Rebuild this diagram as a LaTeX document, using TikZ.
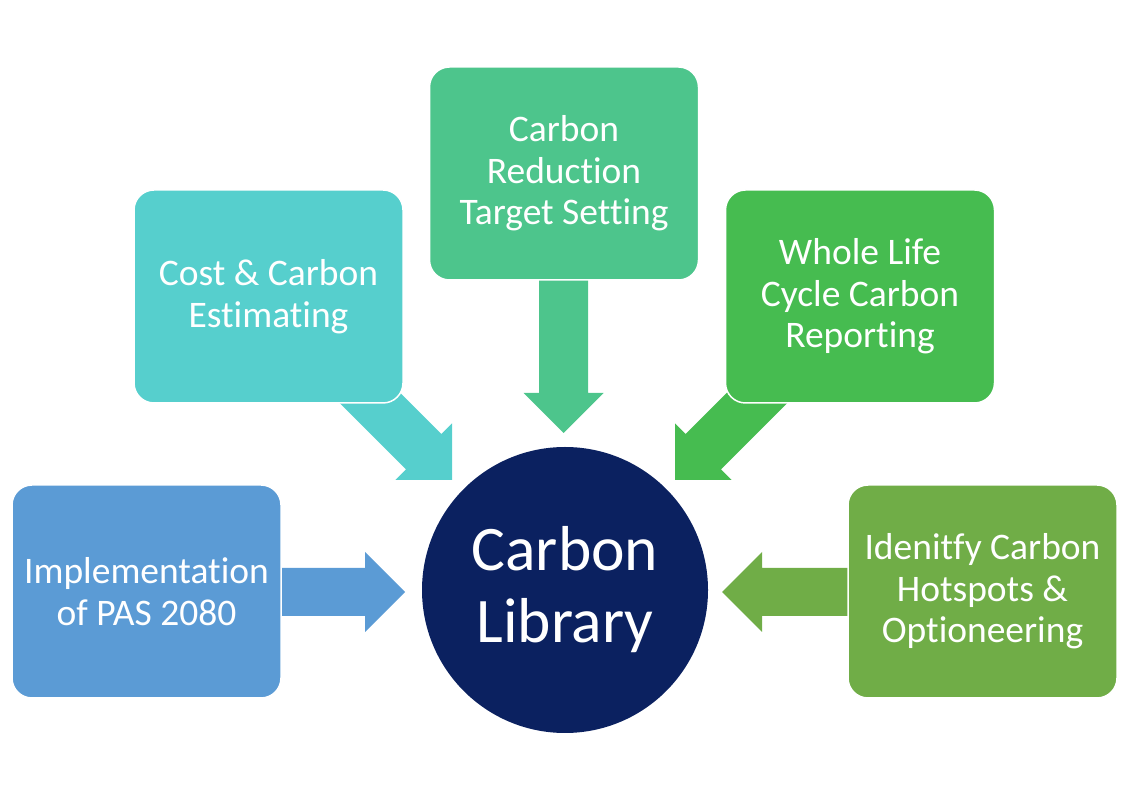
\documentclass[tikz,border=0pt]{standalone}
\usepackage{fontspec}
\setmainfont{Carlito}[Ligatures=NoCommon]
\definecolor{cImpl}{HTML}{5B9BD5}
\definecolor{cCost}{HTML}{56CFCD}
\definecolor{cTarget}{HTML}{4DC58C}
\definecolor{cWhole}{HTML}{46BC50}
\definecolor{cIdent}{HTML}{70AD47}
\definecolor{cNavy}{HTML}{0B2160}
\newcommand\bigarrow[5]{% #1 tip, #2 angle, #3 length, #4 colour, #5 shaft half width
  \fill[#4, shift={(#1)}, rotate=#2] (0,0) -- (-40,40) -- (-40,#5) -- (-#3,#5) -- (-#3,-#5) -- (-40,-#5) -- (-40,-40) -- cycle;}
\tikzset{
  box/.style={rounded corners=20pt, draw=white, line width=1.5pt, minimum width=269pt, minimum height=213pt,
    text=white, align=center, inner sep=0pt, font=\fontsize{37.5}{41.5}\selectfont},
  hub/.style={circle, fill=cNavy, minimum size=286pt, inner sep=0pt, text=white, align=center,
    font=\fontsize{63.5}{72}\selectfont}
}
\begin{document}
\begin{tikzpicture}[x=1pt,y=1pt]
\useasboundingbox (0,0) rectangle (1132,800);
% arrow tips
\coordinate (tipL) at (405,208);
\coordinate (tipR) at (722,208);
\coordinate (tipD) at (563.5,367);
\coordinate (tipC) at (452,320);
\coordinate (tipW) at (675,320);
% block arrows
\bigarrow{tipL}{0}{140}{cImpl}{24}
\bigarrow{tipR}{180}{140}{cIdent}{24}
\bigarrow{tipD}{-90}{160}{cTarget}{24.5}
\bigarrow{tipC}{-45}{155}{cCost}{25}
\bigarrow{tipW}{-135}{155}{cWhole}{25}
% boxes
\node[box, fill=cImpl] (impl) at (146.5,208.5) {Implementation\\of PAS 2080};
\node[box, fill=cCost] (cost) at (268.5,503.5) {Cost \& Carbon\\Estimating};
\node[box, fill=cTarget] (target) at (564,626.5) {Carbon\\Reduction\\Target Setting};
\node[box, fill=cWhole] (whole) at (860,503.5) {Whole Life\\Cycle Carbon\\Reporting};
\node[box, fill=cIdent] (ident) at (982.5,208.5) {Idenitfy Carbon\\Hotspots \&\\Optioneering};
\node[hub] (lib) at (565,210) {Carbon\\Library};
\end{tikzpicture}
\end{document}
